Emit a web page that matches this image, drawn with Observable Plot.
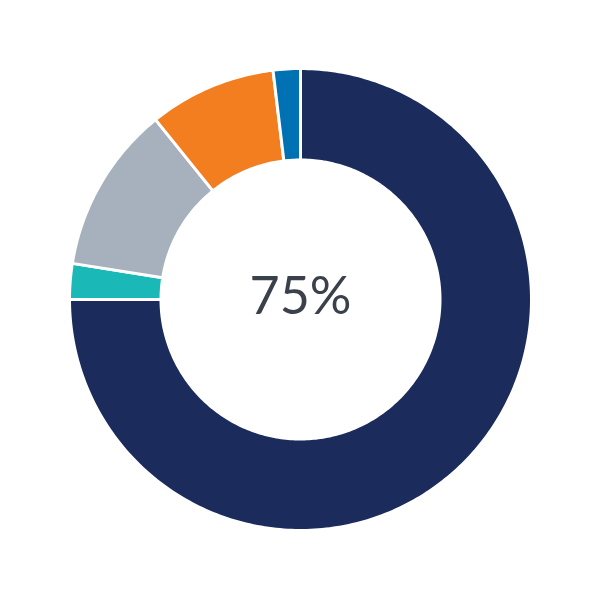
<!DOCTYPE html>
<html>
<head>
<meta charset="utf-8">
<script src="https://cdn.jsdelivr.net/npm/d3@7"></script>
<script src="https://cdn.jsdelivr.net/npm/@observablehq/plot@0.6"></script>
<style>
  html, body { margin: 0; padding: 0; background: #fff; }
  #chart svg { display: block; }
</style>
</head>
<body>
<div id="chart"></div>
<script>
const categories = ["A", "B", "C", "D", "E"];
const values = [75, 2.5, 11.7, 8.9, 1.9];
const colors = ["#1b2b5b", "#1bb8b8", "#a7b1be", "#f37e20", "#0072b4"];
const centerLabel = "75%";

const outerR = 231;
const innerR = 139.5;

const pie = d3.pie().sort(null).value(d => d.value).startAngle(0).endAngle(2 * Math.PI);
const arcs = pie(categories.map((c, i) => ({category: c, value: values[i]})));

const pts = [];
for (const a of arcs) {
  const n = Math.max(8, Math.ceil((a.endAngle - a.startAngle) * 60));
  for (let k = 0; k <= n; k++) {
    const t = a.startAngle + (a.endAngle - a.startAngle) * k / n;
    pts.push({category: a.data.category, x: outerR * Math.sin(t), y: outerR * Math.cos(t)});
  }
  for (let k = n; k >= 0; k--) {
    const t = a.startAngle + (a.endAngle - a.startAngle) * k / n;
    pts.push({category: a.data.category, x: innerR * Math.sin(t), y: innerR * Math.cos(t)});
  }
}

const chart = Plot.plot({
  width: 600,
  height: 599,
  margin: 0,
  x: {domain: [-300, 300], axis: null},
  y: {domain: [-300, 299], axis: null},
  color: {domain: categories, range: colors},
  marks: [
    Plot.line(pts, {x: "x", y: "y", z: "category", fill: "category", stroke: "white", strokeWidth: 3, curve: "linear-closed"}),
    Plot.text([centerLabel], {x: () => 0, y: () => 0, text: d => d, fontSize: 52, fill: "#3a414b", fontFamily: "Lato", dy: -2})
  ]
});
document.getElementById("chart").appendChild(chart);
</script>
</body>
</html>
